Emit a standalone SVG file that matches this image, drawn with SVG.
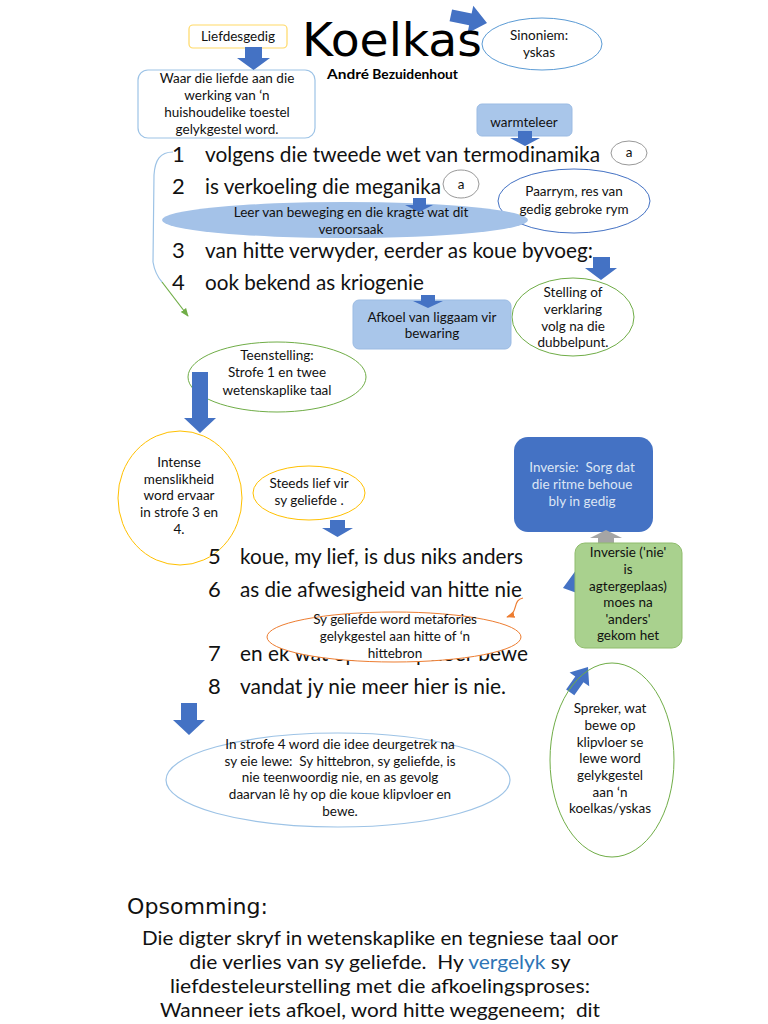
<svg xmlns="http://www.w3.org/2000/svg" width="768" height="1024" viewBox="0 0 768 1024">
<defs>
<style>
.t{font-family:Lato,"Open Sans","Liberation Sans",sans-serif;font-size:13.5px;fill:#111;text-anchor:middle;white-space:pre}
.p{font-family:Lato,"Open Sans","Liberation Sans",sans-serif;font-size:22px;fill:#111}
.n{font-family:Lato,"Open Sans","Liberation Sans",sans-serif;font-size:22px;fill:#111}
.s{font-family:Lato,"Open Sans","Liberation Sans",sans-serif;font-size:20px;fill:#111;text-anchor:middle;white-space:pre}
.ar{fill:#4472c4}
.lb{fill:#a9c6ea;stroke:#9bbbe3;stroke-width:1}
</style>
<marker id="mg" viewBox="0 0 10 10" refX="9" refY="5" markerWidth="7" markerHeight="7" orient="auto"><path d="M0,1 L10,5 L0,9 z" fill="#70ad47"/></marker>
<marker id="mo" viewBox="0 0 10 10" refX="9" refY="5" markerWidth="7" markerHeight="7" orient="auto"><path d="M0,1 L10,5 L0,9 z" fill="#ed7d31"/></marker>
</defs>
<rect width="768" height="1024" fill="#fff"/>

<g id="title">
<polygon class="ar" points="0,0 -17,-14 -17,-6 -37,-6 -37,6 -17,6 -17,14" transform="translate(487,23) rotate(12)"/>
<text x="302" y="56" font-family="'DejaVu Sans',Verdana,sans-serif" font-size="46" fill="#000" textLength="180" lengthAdjust="spacingAndGlyphs">Koelkas</text>
<text x="327" y="79" font-family="Lato,'Open Sans',sans-serif" font-weight="bold" fill="#000" textLength="131" lengthAdjust="spacingAndGlyphs"><tspan font-size="14">André</tspan><tspan font-size="12.5"> Bezuidenhout</tspan></text>
</g>

<g id="liefdesgedig">
<rect x="189" y="25" width="98" height="23" rx="4" fill="#fff" stroke="#ffd966" stroke-width="1.2"/>
<text class="t" x="238" y="41">Liefdesgedig</text>
</g>

<g id="waar">
<rect x="138" y="70" width="177" height="68" rx="10" fill="#fff" stroke="#9dc3e6" stroke-width="1.2"/>
<text class="t" x="227" y="83">Waar die liefde aan die</text>
<text class="t" x="227" y="100">werking van ‘n</text>
<text class="t" x="227" y="117">huishoudelike toestel</text>
<text class="t" x="227" y="134">gelykgestel word.</text>
</g>

<g id="sinoniem">
<ellipse cx="542" cy="44" rx="60" ry="26" fill="#fff" stroke="#5b9bd5" stroke-width="1"/>
<text class="t" x="539" y="40">Sinoniem:</text>
<text class="t" x="539" y="57">yskas</text>
</g>

<g id="warmteleer">
<rect x="477" y="104" width="95" height="32" rx="5" class="lb"/>
<text class="t" x="524" y="127">warmteleer</text>
</g>

<g id="a1">
<ellipse cx="629" cy="153" rx="18" ry="12" fill="#fff" stroke="#999" stroke-width="1"/>
<text class="t" x="629" y="157" font-size="11">a</text>
</g>
<g id="a2">
<ellipse cx="461" cy="184" rx="18" ry="14" fill="#fff" stroke="#999" stroke-width="1"/>
<text class="t" x="461" y="189" font-size="11">a</text>
</g>

<g id="poem1">
<text class="n" x="172" y="162">1</text><text class="p" x="205" y="162" textLength="395" lengthAdjust="spacingAndGlyphs">volgens die tweede wet van termodinamika</text>
<text class="n" x="172" y="194">2</text><text class="p" x="205" y="194" textLength="236" lengthAdjust="spacingAndGlyphs">is verkoeling die meganika</text>
<text class="n" x="172" y="258">3</text><text class="p" x="205" y="258" textLength="388" lengthAdjust="spacingAndGlyphs">van hitte verwyder, eerder as koue byvoeg:</text>
<text class="n" x="172" y="290">4</text><text class="p" x="205" y="290" textLength="219" lengthAdjust="spacingAndGlyphs">ook bekend as kriogenie</text>
</g>

<g id="paarrym">
<ellipse cx="574" cy="201" rx="76" ry="32" fill="#fff" stroke="#4472c4" stroke-width="1"/>
</g>
<g id="leer">
<ellipse cx="345" cy="220" rx="183" ry="18" fill="#a4c2e8"/>
<text class="t" x="351" y="217">Leer van beweging en die kragte wat dit</text>
<text class="t" x="351" y="234">veroorsaak</text>
</g>
<g id="paarrym-text">
<text class="t" x="574" y="196">Paarrym, res van</text>
<text class="t" x="574" y="214">gedig gebroke rym</text>
</g>

<g id="stelling">
<ellipse cx="573" cy="317" rx="61" ry="39" fill="#fff" stroke="#70ad47" stroke-width="1"/>
<text class="t" x="573" y="297">Stelling of</text>
<text class="t" x="573" y="314">verklaring</text>
<text class="t" x="573" y="331">volg na die</text>
<text class="t" x="573" y="347">dubbelpunt.</text>
</g>

<g id="afkoel">
<rect x="353" y="300" width="158" height="49" rx="6" class="lb"/>
<text class="t" x="432" y="322">Afkoel van liggaam vir</text>
<text class="t" x="432" y="338">bewaring</text>
</g>

<g id="teenstelling">
<ellipse cx="277" cy="377" rx="89" ry="35" fill="#fff" stroke="#70ad47" stroke-width="1"/>
<text class="t" x="277" y="360">Teenstelling:</text>
<text class="t" x="277" y="377">Strofe 1 en twee</text>
<text class="t" x="277" y="395">wetenskaplike taal</text>
</g>

<g id="intense">
<ellipse cx="180" cy="498" rx="62" ry="67" fill="#fff" stroke="#ffc000" stroke-width="1"/>
<text class="t" x="179" y="467">Intense</text>
<text class="t" x="179" y="484">menslikheid</text>
<text class="t" x="179" y="500">word ervaar</text>
<text class="t" x="179" y="517">in strofe 3 en</text>
<text class="t" x="179" y="534">4.</text>
</g>

<g id="steeds">
<ellipse cx="309" cy="493" rx="56" ry="27" fill="#fff" stroke="#ffc000" stroke-width="1"/>
<text class="t" x="309" y="488">Steeds lief vir</text>
<text class="t" x="309" y="505">sy geliefde .</text>
</g>

<g id="inversie1">
<rect x="514" y="437" width="139" height="95" rx="14" fill="#4472c4"/>
<text class="t" x="582" y="472" style="fill:#dde6f4">Inversie:  Sorg dat</text>
<text class="t" x="582" y="489" style="fill:#dde6f4">die ritme behoue</text>
<text class="t" x="582" y="506" style="fill:#dde6f4">bly in gedig</text>
</g>

<g id="poem2">
<text class="n" x="208" y="564">5</text><text class="p" x="240" y="564" textLength="283" lengthAdjust="spacingAndGlyphs">koue, my lief, is dus niks anders</text>
<text class="n" x="208" y="597">6</text><text class="p" x="240" y="597" textLength="282" lengthAdjust="spacingAndGlyphs">as die afwesigheid van hitte nie</text>
<text class="n" x="208" y="661">7</text><text class="p" x="240" y="661" textLength="288" lengthAdjust="spacingAndGlyphs">en ek wat op die klipvloer bewe</text>
<text class="n" x="208" y="694">8</text><text class="p" x="240" y="694" textLength="266" lengthAdjust="spacingAndGlyphs">vandat jy nie meer hier is nie.</text>
</g>

<g id="metafories">
<ellipse cx="394" cy="637" rx="127" ry="25" fill="#fff" stroke="#ed7d31" stroke-width="1"/>
<text class="t" x="395" y="624">Sy geliefde word metafories</text>
<text class="t" x="395" y="641">gelykgestel aan hitte of ‘n</text>
<text class="t" x="395" y="658">hittebron</text>
</g>

<g id="connectors">
<path d="M173,152 C160,152 155,160 154,175 L153,262 Q155,274 162,282" fill="none" stroke="#9dc3e6" stroke-width="1.2"/>
<path d="M162,282 L188,316" fill="none" stroke="#70ad47" stroke-width="1.2" marker-end="url(#mg)"/>
<path d="M523,598 C512,600 519,613 507,617" fill="none" stroke="#ed7d31" stroke-width="1.2" marker-end="url(#mo)"/>
<polygon class="ar" points="245,47 262,47 262,58 270,58 253.5,70 237,58 245,58"/>
<polygon class="ar" points="518,131 532,131 532,138 540,138 525,146 510,138 518,138"/>
<polygon class="ar" points="413,198 426,198 426,205 433,205 419,212 405,205 413,205"/>
<polygon class="ar" points="593,257 610,257 610,268 617,268 601,280 585,268 593,268"/>
<polygon class="ar" points="421,295 435,295 435,301 443,301 428,308 413,301 421,301"/>
<polygon class="ar" points="192,372 208,372 208,418 216,418 200,433 184,418 192,418"/>
<polygon class="ar" points="330,520 345,520 345,528 353,528 337.5,537 322,528 330,528"/>
<polygon class="ar" points="181,703 197,703 197,720 205,720 189,735 173,720 181,720"/>
<polygon points="606,530 622,538 614,538 614,546 598,546 598,538 590,538" fill="#a5a5a5"/>
<polygon class="ar" points="0,0 -20,15 -20,7 -38,7 -38,-7 -20,-7 -20,-15" transform="translate(563,588) rotate(163)"/>
<polygon class="ar" points="0,0 -15,12 -15,5 -31,5 -31,-5 -15,-5 -15,-12" transform="translate(588,667) rotate(-55)"/>
</g>

<g id="inversie2">
<rect x="575" y="543" width="107" height="105" rx="10" fill="#a9d18e" stroke="#8fbc6c" stroke-width="1"/>
<text class="t" x="628" y="557">Inversie ('nie'</text>
<text class="t" x="628" y="574">is</text>
<text class="t" x="628" y="591">agtergeplaas)</text>
<text class="t" x="628" y="607">moes na</text>
<text class="t" x="628" y="624">'anders'</text>
<text class="t" x="628" y="640">gekom het</text>
</g>

<g id="strofe4">
<ellipse cx="338" cy="780" rx="172" ry="47" fill="#fff" stroke="#9dc3e6" stroke-width="1.2"/>
<text class="t" x="340" y="749">In strofe 4 word die idee deurgetrek na</text>
<text class="t" x="340" y="766">sy eie lewe:  Sy hittebron, sy geliefde, is</text>
<text class="t" x="340" y="782">nie teenwoordig nie, en as gevolg</text>
<text class="t" x="340" y="799">daarvan lê hy op die koue klipvloer en</text>
<text class="t" x="340" y="816">bewe.</text>
</g>

<g id="spreker">
<ellipse cx="612" cy="760" rx="62" ry="97" fill="none" stroke="#70ad47" stroke-width="1"/>
<text class="t" x="610" y="713">Spreker, wat</text>
<text class="t" x="610" y="730">bewe op</text>
<text class="t" x="610" y="747">klipvloer se</text>
<text class="t" x="610" y="763">lewe word</text>
<text class="t" x="610" y="780">gelykgestel</text>
<text class="t" x="610" y="797">aan ‘n</text>
<text class="t" x="610" y="813">koelkas/yskas</text>
</g>

<g id="opsomming">
<text x="127" y="914" font-family="'DejaVu Sans',Verdana,sans-serif" font-size="21" fill="#111" textLength="141" lengthAdjust="spacingAndGlyphs">Opsomming:</text>
<text class="s" x="380" y="945" textLength="476" lengthAdjust="spacingAndGlyphs">Die digter skryf in wetenskaplike en tegniese taal oor</text>
<text class="s" x="380" y="969" textLength="381" lengthAdjust="spacingAndGlyphs">die verlies van sy geliefde.  Hy <tspan fill="#2e75b6">vergelyk</tspan> sy</text>
<text class="s" x="380" y="993" textLength="420" lengthAdjust="spacingAndGlyphs">liefdesteleurstelling met die afkoelingsproses:</text>
<text class="s" x="380" y="1017" textLength="440" lengthAdjust="spacingAndGlyphs">Wanneer iets afkoel, word hitte weggeneem;  dit</text>
</g>
</svg>
